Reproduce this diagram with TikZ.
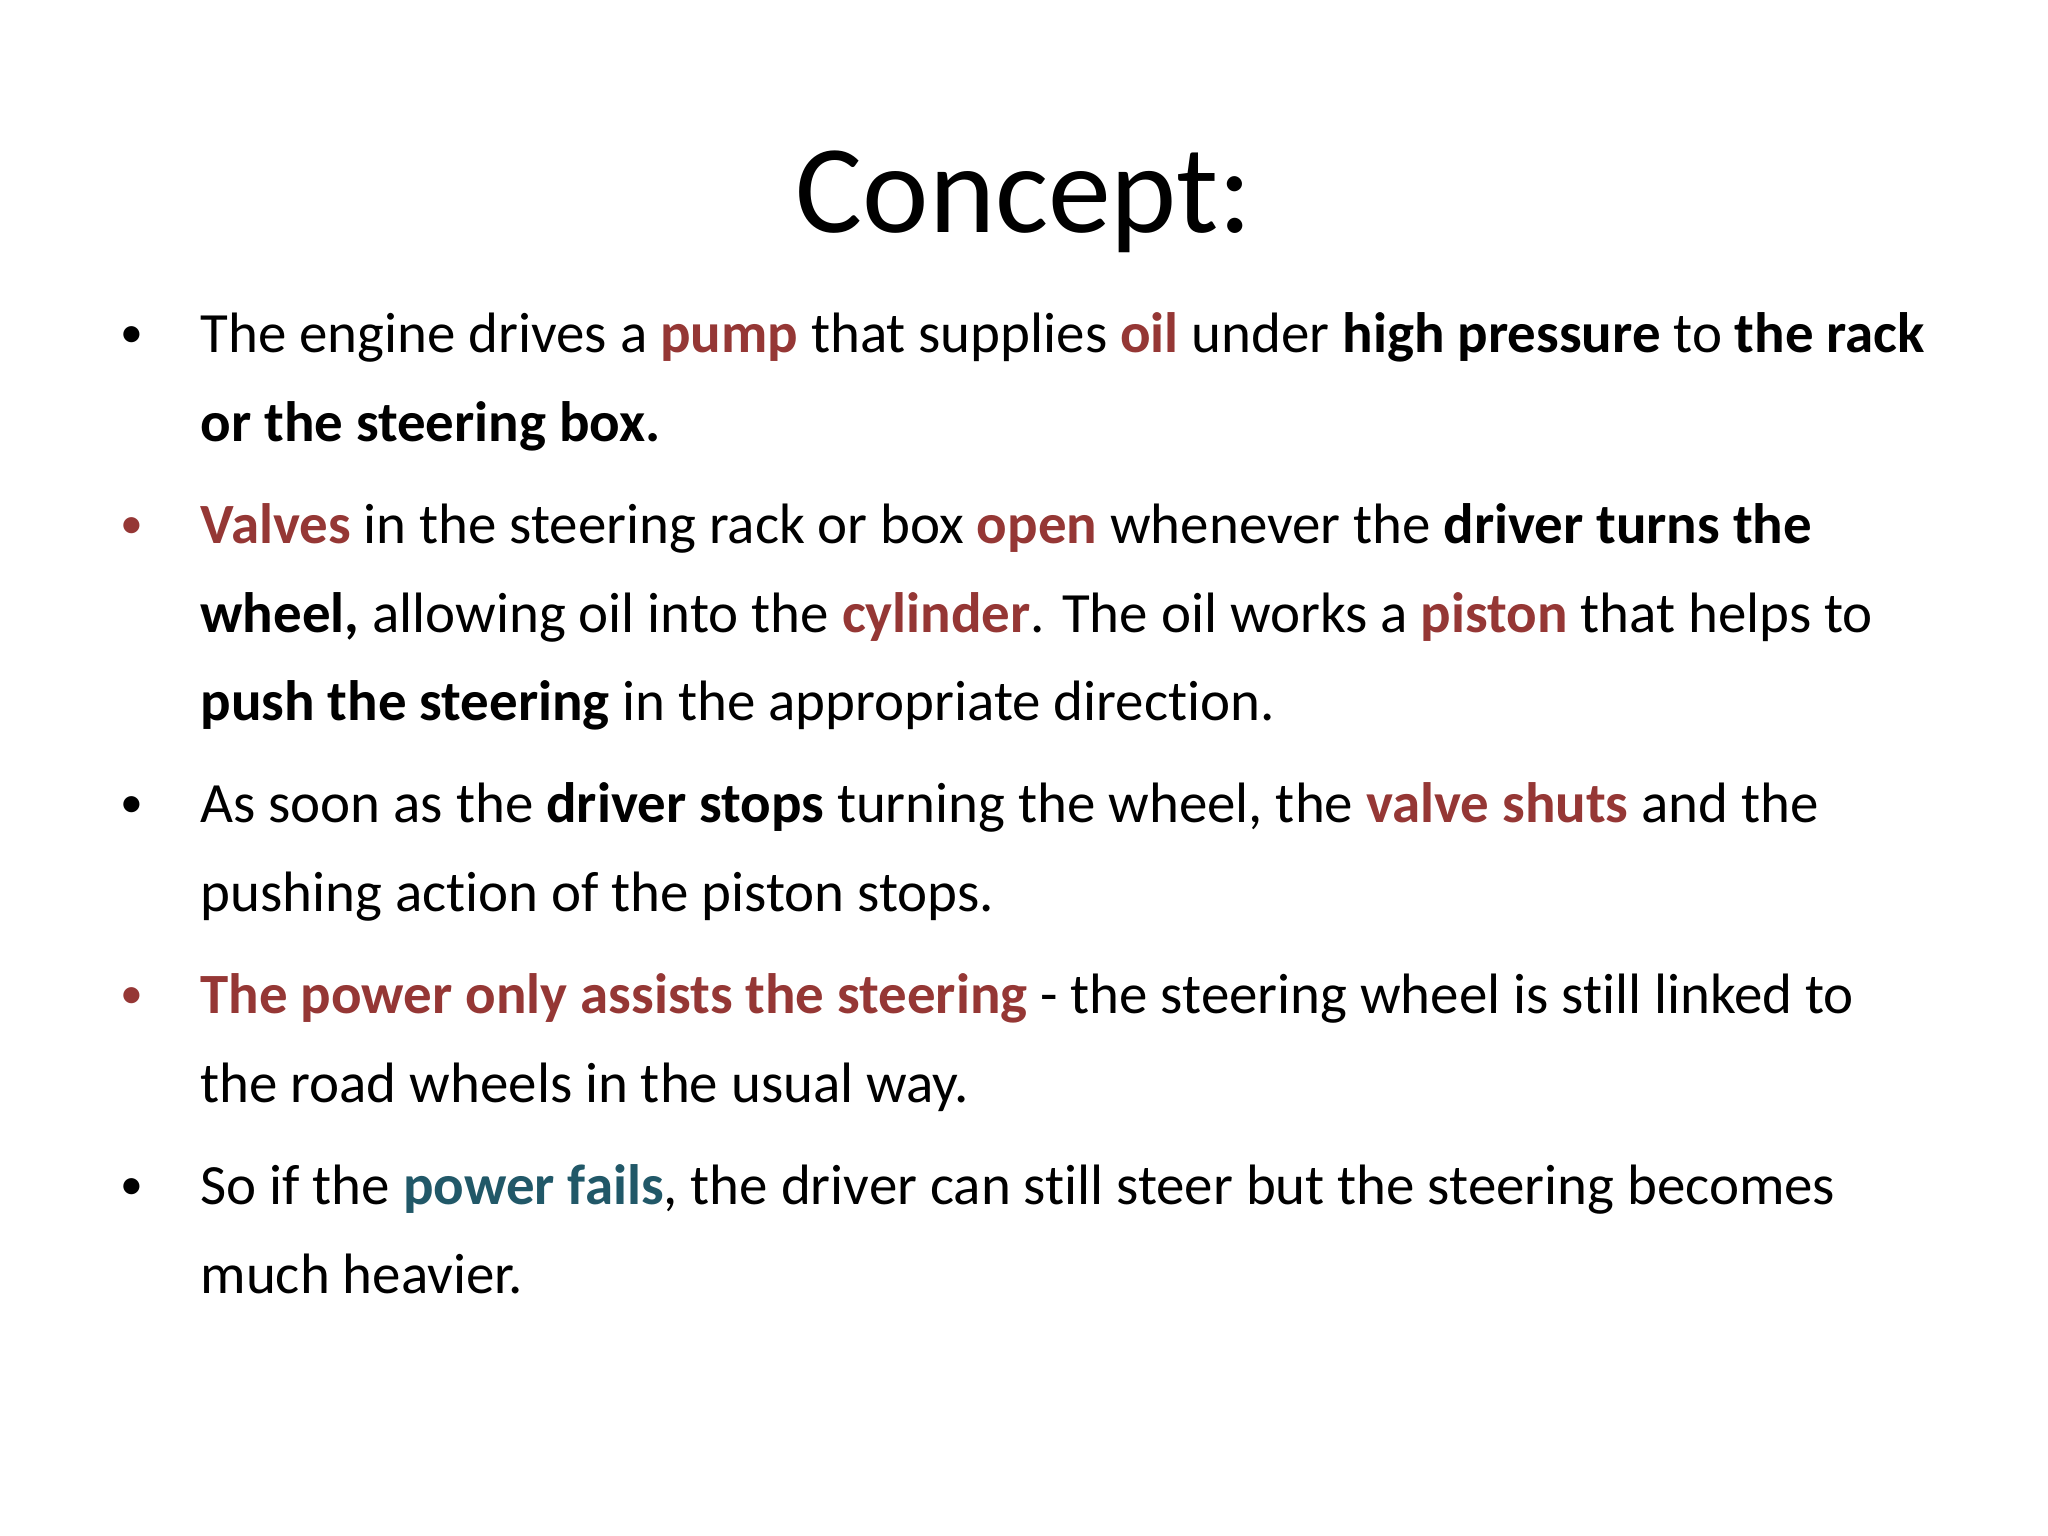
\documentclass[tikz,border=0pt]{standalone}
\usepackage{fontspec}
\setmainfont[RawFeature={-liga}]{Carlito}
\definecolor{red1}{HTML}{953735}
\definecolor{teal1}{HTML}{215868}
\newcommand{\R}[1]{\textbf{\textcolor{red1}{#1}}}
\newcommand{\B}[1]{\textbf{#1}}
\newcommand{\T}[1]{\textbf{\textcolor{teal1}{#1}}}
\begin{document}
\begin{tikzpicture}[x=0.01306cm,y=-0.01306cm,
  ln/.style={anchor=base west,inner sep=0pt,font=\fontsize{16.2pt}{20pt}\selectfont},
  bl/.style={anchor=base,inner sep=0pt,font=\fontsize{13pt}{16pt}\selectfont}]
\useasboundingbox (0,0) rectangle (1568,1176);
\node[anchor=base,inner sep=0pt,font=\fontsize{35.8pt}{42pt}\selectfont] (title) at (784,178) {Concept:};
\node[bl] (b1) at (101,266) {•};
\node[ln] (l1) at (153,270) {The engine drives a \R{pump} that supplies \R{oil} under \B{high pressure} to \B{the rack}};
\node[ln] (l2) at (153,338) {\B{or the steering box.}};
\node[bl,text=red1] (b2) at (101,412) {•};
\node[ln] (l3) at (153,416) {\R{Valves} in the steering rack or box \R{open} whenever the \B{driver turns the}};
\node[ln] (l4) at (153,484) {\B{wheel,} allowing oil into the \R{cylinder}. The oil works a \R{piston} that helps to};
\node[ln] (l5) at (153,552) {\B{push the steering} in the appropriate direction.};
\node[bl] (b3) at (101,626) {•};
\node[ln] (l6) at (153,630) {As soon as the \B{driver stops} turning the wheel, the \R{valve shuts} and the};
\node[ln] (l7) at (153,698) {pushing action of the piston stops.};
\node[bl,text=red1] (b4) at (101,772) {•};
\node[ln] (l8) at (153,776) {\R{The power only assists the steering} - the steering wheel is still linked to};
\node[ln] (l9) at (153,844) {the road wheels in the usual way.};
\node[bl] (b5) at (101,918) {•};
\node[ln] (l10) at (153,922) {So if the \T{power fails}, the driver can still steer but the steering becomes};
\node[ln] (l11) at (153,990) {much heavier.};
\end{tikzpicture}
\end{document}
